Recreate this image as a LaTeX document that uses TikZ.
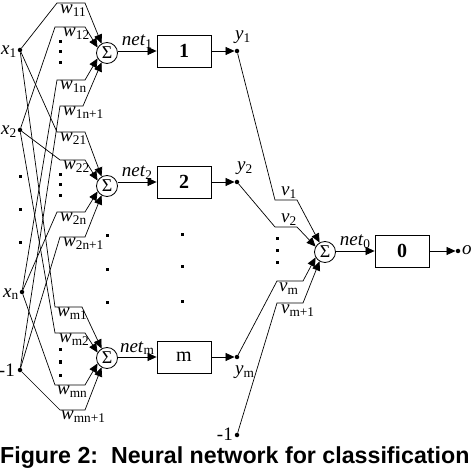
\documentclass[tikz,border=0pt]{standalone}
\usepackage{fontspec}
\setmainfont{Liberation Serif}
\newfontfamily\capfont{Liberation Sans}
\usetikzlibrary{arrows.meta}
\begin{document}
\begin{tikzpicture}[x=1pt,y=-1pt,
  dotnode/.style={circle,fill,inner sep=0pt,minimum size=4.5pt},
  pnt/.style={rectangle,fill,inner sep=0pt,minimum size=3pt},
  sumnode/.style={circle,draw,line width=0.8pt,minimum size=21pt,inner sep=0pt,font=\fontsize{18}{18}\selectfont},
  boxnode/.style={draw,line width=0.8pt,minimum width=54pt,minimum height=32pt,inner sep=0pt,font=\fontsize{20}{20}\selectfont\bfseries},
  wire/.style={line width=0.7pt},
  arr/.style={wire,-{Triangle[length=9pt,width=8pt]}},
  lbl/.style={inner sep=0pt,font=\fontsize{19}{19}\selectfont},
]
\useasboundingbox (0,0) rectangle (474,470);
\clip (0,0) rectangle (474,470);

% inputs
\node[dotnode] (X1) at (20,50) {};
\node[dotnode] (X2) at (20,130) {};
\node[dotnode] (XN) at (22,292) {};
\node[dotnode] (XB) at (20,370) {};
\node[lbl,anchor=east] (lx1) at (17,52) {\textit{x}\textsubscript{1}};
\node[lbl,anchor=east] (lx2) at (17,132) {\textit{x}\textsubscript{2}};
\node[lbl,anchor=east] (lxn) at (19,294) {\textit{x}\textsubscript{n}};
\node[lbl,anchor=east] (lxb) at (15,370) {-1};
\node[pnt] (ld1) at (20,177) {};
\node[pnt] (ld2) at (20,210) {};
\node[pnt] (ld3) at (20,243) {};

% sum nodes
\node[sumnode] (S1) at (107,53) {Σ};
\node[sumnode] (S2) at (107,186) {Σ};
\node[sumnode] (SM) at (107,358) {Σ};

% weight segments, Sigma 1
\coordinate (a11) at (57,3);   \coordinate (b11) at (85,3);
\coordinate (a12) at (55,27);  \coordinate (b12) at (85,27);
\coordinate (a1n) at (57,80);  \coordinate (b1n) at (85,80);
\coordinate (a1b) at (60,106); \coordinate (b1b) at (83,106);
\draw[arr] (X1) -- (a11) -- (b11) -- (S1.120);
\draw[arr] (X2) -- (a12) -- (b12) -- (S1.150);
\draw[arr] (XN) -- (a1n) -- (b1n) -- (S1.210);
\draw[arr] (XB) -- (a1b) -- (b1b) -- (S1.240);
\node[lbl,anchor=north west] (lw11) at (60,5) {\textit{w}\textsubscript{11}};
\node[lbl,anchor=north west] (lw12) at (63,28) {\textit{w}\textsubscript{12}};
\node[lbl,anchor=north west] (lw1n) at (60,81) {\textit{w}\textsubscript{1n}};
\node[lbl,anchor=north west] (lw1b) at (63,107) {\textit{w}\textsubscript{1n+1}};
\node[pnt] (d11) at (60,42) {};
\node[pnt] (d12) at (60,52) {};
\node[pnt] (d13) at (60,63) {};

% Sigma 2
\coordinate (a21) at (57,132); \coordinate (b21) at (85,132);
\coordinate (a22) at (60,160); \coordinate (b22) at (85,160);
\coordinate (a2n) at (57,212); \coordinate (b2n) at (85,212);
\coordinate (a2b) at (60,237); \coordinate (b2b) at (85,237);
\draw[arr] (X1) -- (a21) -- (b21) -- (S2.120);
\draw[arr] (X2) -- (a22) -- (b22) -- (S2.150);
\draw[arr] (XN) -- (a2n) -- (b2n) -- (S2.210);
\draw[arr] (XB) -- (a2b) -- (b2b) -- (S2.240);
\node[lbl,anchor=north west] (lw21) at (60,133) {\textit{w}\textsubscript{21}};
\node[lbl,anchor=north west] (lw22) at (63,161) {\textit{w}\textsubscript{22}};
\node[lbl,anchor=north west] (lw2n) at (60,213) {\textit{w}\textsubscript{2n}};
\node[lbl,anchor=north west] (lw2b) at (63,238) {\textit{w}\textsubscript{2n+1}};
\node[pnt] (d21) at (60,175) {};
\node[pnt] (d22) at (60,185) {};
\node[pnt] (d23) at (60,196) {};

% Sigma m
\coordinate (am1) at (55,307); \coordinate (bm1) at (82,307);
\coordinate (am2) at (55,333); \coordinate (bm2) at (85,333);
\coordinate (amn) at (55,385); \coordinate (bmn) at (85,385);
\coordinate (amb) at (60,410); \coordinate (bmb) at (85,410);
\draw[arr] (X1) -- (am1) -- (bm1) -- (SM.120);
\draw[arr] (X2) -- (am2) -- (bm2) -- (SM.150);
\draw[arr] (XN) -- (amn) -- (bmn) -- (SM.210);
\draw[arr] (XB) -- (amb) -- (bmb) -- (SM.240);
\node[lbl,anchor=north west] (lwm1) at (57,308) {\textit{w}\textsubscript{m1}};
\node[lbl,anchor=north west] (lwm2) at (59,334) {\textit{w}\textsubscript{m2}};
\node[lbl,anchor=north west] (lwmn) at (57,386) {\textit{w}\textsubscript{mn}};
\node[lbl,anchor=north west] (lwmb) at (61,411) {\textit{w}\textsubscript{mn+1}};
\node[pnt] (dm1) at (60,350) {};
\node[pnt] (dm2) at (60,362) {};
\node[pnt] (dm3) at (60,375) {};

% dots between sums
\node[pnt] (sd1) at (107,236) {};
\node[pnt] (sd2) at (107,270) {};
\node[pnt] (sd3) at (107,303) {};

% hidden boxes
\node[boxnode] (B1) at (184,51) {1};
\node[boxnode] (B2) at (184,182) {2};
\node[boxnode,font=\fontsize{20}{20}\selectfont] (BM) at (184,357) {m};
\node[pnt] (bd1) at (182,235) {};
\node[pnt] (bd2) at (182,267) {};
\node[pnt] (bd3) at (182,302) {};
\draw[arr] (S1.east|-B1) -- (B1.west) node[lbl,midway,above=2pt] (ln1) {\textit{net}\textsubscript{1}};
\draw[arr] (S2.east|-B2) -- (B2.west) node[lbl,midway,above=2pt] (ln2) {\textit{net}\textsubscript{2}};
\draw[arr] (SM.east|-BM) -- (BM.west) node[lbl,midway,above=2pt] (lnm) {\textit{net}\textsubscript{m}};

% outputs
\node[dotnode] (Y1) at (237,51) {};
\node[dotnode] (Y2) at (237,182) {};
\node[dotnode] (YM) at (237,357) {};
\node[dotnode] (YB) at (237,435) {};
\draw[arr] (B1.east) -- (Y1.west);
\draw[arr] (B2.east) -- (Y2.west);
\draw[arr] (BM.east) -- (YM.west);
\node[lbl,anchor=south west] (ly1) at (235,44) {\textit{y}\textsubscript{1}};
\node[lbl,anchor=south west] (ly2) at (237,175) {\textit{y}\textsubscript{2}};
\node[lbl,anchor=north west] (lym) at (235,366) {\textit{y}\textsubscript{m}};
\node[lbl,anchor=east] (lyb) at (233,434) {-1};

% output sum
\node[sumnode] (SO) at (325,252) {Σ};
\coordinate (va1) at (275,200); \coordinate (vb1) at (297,200);
\coordinate (va2) at (275,227); \coordinate (vb2) at (297,227);
\coordinate (vam) at (277,281); \coordinate (vbm) at (303,281);
\coordinate (vab) at (277,303); \coordinate (vbb) at (303,303);
\draw[arr] (Y1) -- (va1) -- (vb1) -- (SO.120);
\draw[arr] (Y2) -- (va2) -- (vb2) -- (SO.150);
\draw[arr] (YM) -- (vam) -- (vbm) -- (SO.210);
\draw[arr] (YB) -- (vab) -- (vbb) -- (SO.240);
\node[lbl,anchor=south west] (lv1) at (281,199) {\textit{v}\textsubscript{1}};
\node[lbl,anchor=south west] (lv2) at (281,226) {\textit{v}\textsubscript{2}};
\node[lbl,anchor=north west] (lvm) at (279,283) {\textit{v}\textsubscript{m}};
\node[lbl,anchor=north west] (lvb) at (281,305) {\textit{v}\textsubscript{m+1}};
\node[pnt] (vd1) at (277,239) {};
\node[pnt] (vd2) at (277,251) {};
\node[pnt] (vd3) at (277,263) {};

\node[boxnode] (B0) at (402,251) {0};
\draw[arr] (SO.east|-B0) -- (B0.west) node[lbl,midway,above=2pt] (ln0) {\textit{net}\textsubscript{0}};
\node[dotnode] (O) at (458,251) {};
\draw[arr] (B0.east) -- (O.west);
\node[lbl,anchor=west] (lo) at (462,250) {\textit{o}};

% caption
\node[anchor=base west,inner sep=0pt,font=\capfont\bfseries\fontsize{23.2}{24}\selectfont] (cap) at (0,463) {Figure 2:\ \ Neural network for classification};
\end{tikzpicture}
\end{document}
